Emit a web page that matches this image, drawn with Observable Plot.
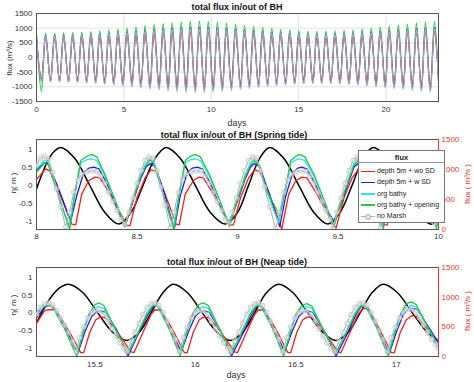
<!DOCTYPE html>
<html><head><meta charset="utf-8">
<script src="https://cdn.jsdelivr.net/npm/d3@7"></script>
<script src="https://cdn.jsdelivr.net/npm/@observablehq/plot@0.6"></script>
<style>
body{margin:0;background:#fff;font-family:"Liberation Sans",Arial,Helvetica,sans-serif;}
#root{position:relative;width:474px;height:382px;overflow:hidden;background:#fff;}
.lbl{position:absolute;white-space:nowrap;transform:translate(-50%,-50%);color:#333;font-size:8px;}
.ttl{position:absolute;white-space:nowrap;transform:translate(-50%,-50%);color:#111;font-size:9px;font-weight:bold;}
.rot{transform:translate(-50%,-50%) rotate(-90deg);}
.red{color:#f03030;}
#legend{position:absolute;left:358px;top:150px;width:85px;height:71px;background:#fff;border:1px solid #777;font-size:7px;color:#222;z-index:5;}
#legend .lt{position:absolute;left:0;top:2px;width:85px;text-align:center;font-weight:bold;font-size:7.5px;}
#legend .sep{position:absolute;left:0;top:11px;width:85px;height:0;border-top:1px solid #999;}
#legend .row{position:absolute;left:2px;height:10px;width:83px;}
#legend .sw{position:absolute;left:0;top:4.5px;width:14px;height:1.5px;}
#legend .dot{position:absolute;left:4px;top:2.5px;width:4px;height:4px;border:1px solid #aaa;border-radius:50%;background:#e8ece8;}
#legend .tx{position:absolute;left:16px;top:0;line-height:10px;white-space:nowrap;}
</style></head><body><div id="root"></div>
<script>
// ---------- Panel 1: whole record, signed flux (m3/s) ----------
const p1PeakDays = [0.00,0.52,1.04,1.55,2.07,2.59,3.11,3.62,4.14,4.66,5.18,5.69,6.21,6.73,7.25,7.76,8.28,8.80,9.32,9.83,10.35,10.87,11.39,11.90,12.42,12.94,13.46,13.97,14.49,15.01,15.53,16.04,16.56,17.08,17.60,18.11,18.63,19.15,19.67,20.18,20.70,21.22,21.74,22.25,22.77];
const p1TroughDays = [0.28,0.80,1.32,1.83,2.35,2.87,3.39,3.90,4.42,4.94,5.46,5.97,6.49,7.01,7.53,8.04,8.56,9.08,9.60,10.11,10.63,11.15,11.67,12.18,12.70,13.22,13.74,14.25,14.77,15.29,15.81,16.32,16.84,17.36,17.88,18.39,18.91,19.43,19.95,20.46,20.98,21.50,22.02,22.53];
const p1EndDay = 23.0;
const p1GreenPeaks = [790,830,830,835,845,860,880,905,930,965,1000,1040,1080,1115,1150,1185,1215,1235,1240,1225,1200,1170,1135,1095,1060,1025,990,960,935,915,900,895,895,905,920,940,965,995,1030,1065,1100,1135,1170,1200,1230];
const p1GreenTroughs = [-1150,-806,-808,-814,-824,-839,-858,-879,-904,-933,-965,-998,-1030,-1059,-1088,-1115,-1137,-1147,-1143,-1126,-1103,-1076,-1044,-1013,-984,-954,-927,-904,-885,-870,-862,-860,-864,-875,-889,-908,-931,-959,-988,-1017,-1046,-1076,-1103,-1128];
const p1RedPeaks = [647,667,667,670,675,682,692,705,717,735,752,772,792,810,827,845,860,870,872,865,852,837,820,800,782,765,747,732,720,710,702,700,700,705,712,722,735,750,767,785,802,820,837,852,867];
const p1RedTroughs = [-738,-749,-751,-755,-763,-773,-787,-801,-819,-840,-862,-886,-908,-929,-950,-969,-984,-992,-988,-977,-960,-941,-919,-896,-876,-855,-836,-819,-806,-795,-789,-788,-791,-798,-809,-822,-838,-858,-879,-899,-920,-941,-960,-978];
const p1BluePeaks = [726,754,754,758,765,775,790,807,825,849,874,901,930,954,978,1003,1024,1038,1041,1031,1013,993,968,940,915,891,866,845,828,814,803,800,800,807,817,831,849,870,894,919,943,968,993,1013,1034];
const p1BlueTroughs = [-801,-815,-816,-822,-830,-843,-858,-876,-897,-921,-947,-975,-1001,-1026,-1050,-1073,-1091,-1099,-1096,-1082,-1063,-1040,-1014,-987,-963,-939,-916,-897,-881,-869,-862,-860,-863,-872,-884,-900,-919,-942,-967,-991,-1015,-1040,-1063,-1084];
const p1GrayPeaks = [706,730,730,733,739,749,761,776,791,813,834,858,883,904,925,947,965,977,980,971,956,938,916,892,871,849,828,810,794,782,773,770,770,776,785,797,813,831,852,874,895,916,938,956,974];
const p1GrayTroughs = [-827,-845,-847,-854,-865,-881,-901,-923,-950,-981,-1014,-1050,-1083,-1114,-1146,-1174,-1197,-1208,-1203,-1185,-1161,-1132,-1099,-1065,-1034,-1003,-974,-950,-930,-914,-905,-903,-907,-919,-934,-954,-978,-1008,-1039,-1070,-1101,-1132,-1161,-1188];
const p1EndValues = {red:-700, blue:-780, green:-800, gray:-820};
const p1YTicks = [-1500,-1000,-500,0,500,1000,1500];
const p1XTicks = [0,5,10,15,20];

// ---------- Panel 2: spring tide ----------
const springEta = [[8.000,-0.10],[8.030,0.35],[8.060,0.72],[8.090,0.95],[8.120,1.05],[8.190,0.75],[8.265,0.00],[8.340,-0.75],[8.410,-1.07],[8.470,-0.75],[8.530,0.00],[8.590,0.75],[8.645,1.05],[8.715,0.75],[8.790,0.00],[8.865,-0.75],[8.940,-1.07],[9.000,-0.75],[9.055,0.00],[9.110,0.75],[9.160,1.05],[9.230,0.75],[9.305,0.00],[9.380,-0.75],[9.450,-1.07],[9.510,-0.75],[9.570,0.00],[9.625,0.75],[9.675,1.05],[9.745,0.75],[9.820,0.00],[9.895,-0.75],[9.960,-1.07],[10.000,-0.98]];
const springRed = [[8.000,830],[8.045,1011],[8.065,981],[8.120,559],[8.175,90],[8.195,78],[8.225,590],[8.260,812],[8.290,872],[8.315,860],[8.360,620],[8.410,319],[8.450,66],[8.465,66],[8.500,529],[8.540,860],[8.570,993],[8.595,969],[8.640,590],[8.695,90],[8.710,78],[8.740,590],[8.780,812],[8.805,872],[8.830,860],[8.875,620],[8.925,319],[8.965,78],[8.980,78],[9.015,529],[9.055,860],[9.085,993],[9.110,969],[9.160,590],[9.220,6],[9.255,590],[9.290,812],[9.320,872],[9.345,860],[9.390,620],[9.440,319],[9.490,18],[9.530,529],[9.570,860],[9.600,993],[9.625,969],[9.675,590],[9.730,78],[9.745,78],[9.775,590],[9.810,812],[9.840,872],[9.865,860],[9.910,620],[9.960,319],[10.000,78]];
const springBlue = [[8.000,993],[8.040,1113],[8.060,1089],[8.110,680],[8.170,138],[8.200,559],[8.235,951],[8.260,1023],[8.285,1041],[8.310,1011],[8.350,770],[8.395,409],[8.440,48],[8.480,469],[8.520,860],[8.545,1041],[8.565,1101],[8.590,1053],[8.635,620],[8.685,0],[8.715,559],[8.750,951],[8.775,1023],[8.800,1041],[8.825,1011],[8.865,770],[8.910,409],[8.960,108],[9.000,469],[9.040,860],[9.065,1041],[9.085,1101],[9.110,1053],[9.155,620],[9.210,48],[9.240,559],[9.275,951],[9.300,1023],[9.320,1041],[9.345,1011],[9.385,770],[9.430,409],[9.480,138],[9.520,469],[9.560,860],[9.580,1041],[9.600,1101],[9.625,1053],[9.670,620],[9.725,48],[9.755,559],[9.790,951],[9.815,1023],[9.840,1041],[9.865,1011],[9.905,770],[9.950,409],[9.990,78],[10.000,198]];
const springCyan = [[8.000,1011],[8.040,1161],[8.060,1113],[8.110,559],[8.160,66],[8.190,559],[8.220,1113],[8.250,1161],[8.275,1179],[8.300,1149],[8.340,891],[8.390,487],[8.440,66],[8.480,511],[8.520,921],[8.545,1113],[8.565,1185],[8.585,1113],[8.630,590],[8.680,30],[8.710,571],[8.740,1113],[8.765,1161],[8.790,1179],[8.815,1149],[8.860,891],[8.910,487],[8.960,66],[9.000,511],[9.040,921],[9.065,1113],[9.085,1185],[9.105,1101],[9.150,590],[9.205,108],[9.235,590],[9.265,1113],[9.290,1161],[9.310,1179],[9.335,1149],[9.380,891],[9.430,487],[9.480,66],[9.520,511],[9.560,921],[9.580,1113],[9.600,1185],[9.620,1101],[9.665,590],[9.720,48],[9.750,571],[9.780,1113],[9.805,1161],[9.830,1179],[9.855,1149],[9.900,891],[9.950,487],[9.990,66],[10.000,198]];
const springGreen = [[8.000,951],[8.040,1113],[8.060,1071],[8.110,559],[8.165,0],[8.190,590],[8.220,1149],[8.250,1222],[8.275,1252],[8.300,1210],[8.340,921],[8.390,499],[8.440,48],[8.480,499],[8.520,891],[8.545,1071],[8.565,1161],[8.585,1089],[8.630,590],[8.685,0],[8.710,590],[8.740,1149],[8.765,1222],[8.790,1252],[8.815,1210],[8.860,921],[8.910,499],[8.960,48],[9.000,499],[9.040,891],[9.065,1071],[9.085,1149],[9.105,1071],[9.150,620],[9.210,228],[9.235,620],[9.265,1149],[9.290,1222],[9.310,1252],[9.335,1210],[9.380,921],[9.430,499],[9.480,48],[9.520,499],[9.560,891],[9.580,1071],[9.600,1149],[9.620,1071],[9.665,590],[9.725,0],[9.750,590],[9.780,1149],[9.805,1222],[9.830,1252],[9.855,1210],[9.900,921],[9.950,499],[9.990,18],[10.000,168]];
const springGray = [[8.000,1071],[8.020,1192],[8.040,1222],[8.060,1173],[8.080,951],[8.100,680],[8.120,379],[8.145,48],[8.165,289],[8.185,620],[8.205,830],[8.225,921],[8.250,957],[8.275,981],[8.300,969],[8.320,891],[8.340,770],[8.360,620],[8.380,469],[8.400,319],[8.420,168],[8.440,78],[8.460,289],[8.480,529],[8.500,770],[8.520,981],[8.540,1149],[8.560,1210],[8.580,1192],[8.600,981],[8.620,710],[8.640,409],[8.665,30],[8.685,289],[8.705,620],[8.725,830],[8.745,921],[8.770,957],[8.795,981],[8.820,969],[8.840,891],[8.860,770],[8.880,620],[8.900,469],[8.920,319],[8.940,168],[8.955,108],[8.975,289],[8.995,529],[9.015,770],[9.035,981],[9.055,1149],[9.075,1210],[9.095,1192],[9.115,981],[9.135,710],[9.160,379],[9.190,18],[9.210,289],[9.230,620],[9.250,830],[9.270,921],[9.290,957],[9.315,981],[9.340,969],[9.360,891],[9.380,770],[9.400,620],[9.420,469],[9.440,319],[9.460,168],[9.475,18],[9.495,289],[9.515,529],[9.535,770],[9.555,981],[9.575,1149],[9.595,1210],[9.615,1192],[9.635,981],[9.655,710],[9.680,379],[9.710,30],[9.730,289],[9.750,620],[9.770,830],[9.790,921],[9.810,957],[9.835,981],[9.860,969],[9.880,891],[9.900,770],[9.920,620],[9.940,469],[9.960,319],[9.980,108],[10.000,258]];
const springXTicks = [8,8.5,9,9.5,10];

// ---------- Panel 3: neap tide ----------
const neapEta = [[15.210,-0.28],[15.250,0.15],[15.290,0.50],[15.330,0.72],[15.370,0.80],[15.440,0.57],[15.515,0.00],[15.590,-0.55],[15.660,-0.77],[15.720,-0.55],[15.780,0.00],[15.840,0.57],[15.890,0.80],[15.960,0.57],[16.035,0.00],[16.110,-0.55],[16.175,-0.77],[16.235,-0.55],[16.295,0.00],[16.355,0.57],[16.415,0.80],[16.485,0.57],[16.560,0.00],[16.635,-0.55],[16.700,-0.77],[16.760,-0.55],[16.820,0.00],[16.880,0.57],[16.935,0.80],[17.005,0.57],[17.080,0.00],[17.155,-0.55],[17.210,-0.77]];
const neapRed = [[15.210,559],[15.250,770],[15.265,788],[15.295,788],[15.315,740],[15.375,409],[15.430,66],[15.445,66],[15.475,409],[15.505,620],[15.530,668],[15.555,650],[15.620,379],[15.680,78],[15.695,66],[15.740,409],[15.780,710],[15.800,788],[15.830,776],[15.890,439],[15.945,66],[15.960,66],[15.990,409],[16.020,620],[16.045,668],[16.070,650],[16.135,379],[16.195,78],[16.210,66],[16.255,409],[16.295,710],[16.315,788],[16.345,776],[16.405,439],[16.460,66],[16.475,66],[16.505,409],[16.535,620],[16.560,668],[16.585,650],[16.650,379],[16.710,78],[16.725,66],[16.770,409],[16.810,710],[16.835,812],[16.865,800],[16.920,439],[16.975,66],[16.990,66],[17.020,409],[17.050,620],[17.080,690],[17.105,670],[17.160,439],[17.210,258]];
const neapBlue = [[15.210,650],[15.250,830],[15.270,860],[15.295,830],[15.355,469],[15.415,48],[15.450,409],[15.485,680],[15.510,755],[15.530,770],[15.555,740],[15.610,439],[15.665,6],[15.720,409],[15.765,710],[15.795,860],[15.820,830],[15.875,469],[15.930,78],[15.965,409],[16.000,680],[16.025,755],[16.045,770],[16.070,740],[16.125,439],[16.180,6],[16.240,409],[16.280,710],[16.310,860],[16.335,830],[16.390,469],[16.445,78],[16.480,409],[16.515,680],[16.540,755],[16.560,770],[16.585,740],[16.640,439],[16.700,6],[16.760,409],[16.800,710],[16.830,872],[16.855,830],[16.910,469],[16.965,48],[17.000,409],[17.035,710],[17.060,800],[17.080,812],[17.105,788],[17.160,499],[17.210,228]];
const neapCyan = [[15.210,740],[15.240,860],[15.265,884],[15.290,848],[15.350,469],[15.410,48],[15.440,379],[15.470,680],[15.500,812],[15.520,842],[15.545,812],[15.600,469],[15.665,48],[15.720,439],[15.760,740],[15.790,884],[15.815,848],[15.870,469],[15.925,48],[15.955,379],[15.985,680],[16.015,812],[16.040,842],[16.065,812],[16.120,469],[16.180,48],[16.235,439],[16.275,740],[16.305,884],[16.330,848],[16.385,469],[16.440,48],[16.470,379],[16.500,680],[16.530,812],[16.555,842],[16.580,812],[16.635,469],[16.700,48],[16.755,439],[16.795,740],[16.825,884],[16.850,848],[16.905,469],[16.960,48],[16.990,379],[17.020,680],[17.050,830],[17.075,860],[17.100,830],[17.155,499],[17.210,168]];
const neapGreen = [[15.210,710],[15.240,830],[15.265,860],[15.290,830],[15.350,469],[15.410,6],[15.440,379],[15.470,710],[15.500,872],[15.520,903],[15.545,860],[15.600,469],[15.665,66],[15.720,439],[15.760,710],[15.790,860],[15.815,830],[15.870,469],[15.925,6],[15.955,379],[15.985,710],[16.015,872],[16.040,903],[16.065,860],[16.120,469],[16.180,66],[16.235,439],[16.275,710],[16.305,860],[16.330,830],[16.385,469],[16.440,6],[16.470,379],[16.500,710],[16.530,860],[16.555,891],[16.580,848],[16.635,469],[16.700,66],[16.755,439],[16.795,710],[16.825,860],[16.850,830],[16.905,469],[16.960,6],[16.990,379],[17.020,710],[17.050,891],[17.075,921],[17.100,872],[17.155,499],[17.210,138]];
const neapGray = [[15.210,710],[15.230,830],[15.250,891],[15.270,903],[15.290,872],[15.310,770],[15.330,650],[15.350,529],[15.370,409],[15.390,258],[15.405,78],[15.425,319],[15.445,499],[15.465,650],[15.485,740],[15.505,770],[15.525,770],[15.545,710],[15.565,590],[15.585,469],[15.605,349],[15.625,228],[15.645,138],[15.660,78],[15.680,258],[15.700,409],[15.720,559],[15.740,710],[15.760,830],[15.780,891],[15.800,903],[15.820,860],[15.840,740],[15.860,590],[15.880,439],[15.900,289],[15.920,78],[15.940,319],[15.960,499],[15.980,650],[16.000,740],[16.020,770],[16.040,770],[16.060,710],[16.080,590],[16.100,469],[16.120,349],[16.140,228],[16.160,138],[16.175,78],[16.195,258],[16.215,409],[16.235,559],[16.255,710],[16.275,830],[16.295,891],[16.315,903],[16.335,860],[16.355,740],[16.375,590],[16.395,439],[16.415,289],[16.435,78],[16.455,319],[16.475,499],[16.495,650],[16.515,740],[16.535,770],[16.555,770],[16.575,710],[16.595,590],[16.615,469],[16.635,349],[16.655,228],[16.675,138],[16.695,78],[16.715,258],[16.735,409],[16.755,559],[16.775,710],[16.795,830],[16.815,891],[16.835,903],[16.855,860],[16.875,740],[16.895,590],[16.915,439],[16.935,289],[16.955,78],[16.975,319],[16.995,499],[17.015,650],[17.035,740],[17.055,788],[17.075,800],[17.095,752],[17.115,650],[17.135,529],[17.155,409],[17.175,289],[17.195,198],[17.210,138]];
const neapXTicks = [15.5,16,16.5,17];

const etaTicks = [-1,-0.5,0,0.5,1];
const fluxRightTicks = [0,500,1000,1500];
const seriesNames = ["depth 5m + wo SD","depth 5m + w SD","org bathy","org bathy + opening","no Marsh"];
const seriesColors = ["#ff1a1a","#1a1aee","#22e8e8","#22c845","#b4b4b4"];

// ---------- build ----------
const root = document.getElementById("root");
const FONT = "Liberation Sans, Arial, Helvetica, sans-serif";
const AX = "#555";
const TXT = "#333";
const RED = "#f03030";

function place(el, top){ el.style.position="absolute"; el.style.left="0px"; el.style.top=top+"px"; root.appendChild(el); return el; }
function label(text, x, y, cls){ const d=document.createElement("div"); d.className=cls; d.textContent=text; d.style.left=x+"px"; d.style.top=y+"px"; root.appendChild(d); return d; }

function interleave(peaks, troughs, endVal){
  const out=[];
  for(let i=0;i<p1PeakDays.length;i++){
    out.push({day:p1PeakDays[i], flux:peaks[i]});
    if(i<p1TroughDays.length) out.push({day:p1TroughDays[i], flux:troughs[i]});
  }
  out.push({day:p1EndDay, flux:endVal});
  return out;
}
const p1Red = interleave(p1RedPeaks,p1RedTroughs,p1EndValues.red);
const p1Blue = interleave(p1BluePeaks,p1BlueTroughs,p1EndValues.blue);
const p1Green = interleave(p1GreenPeaks,p1GreenTroughs,p1EndValues.green);
const p1Gray = interleave(p1GrayPeaks,p1GrayTroughs,p1EndValues.gray);

const fmt = d => String(d);

// Panel 1
place(Plot.plot({
  width:474, height:130, marginTop:13, marginBottom:29, marginLeft:36, marginRight:36,
  style:{fontFamily:FONT, fontSize:"8px", color:TXT, background:"transparent"},
  x:{domain:[0,23], axis:null}, y:{domain:[-1500,1500], axis:null},
  marks:[
    Plot.gridY(p1YTicks,{stroke:"#e2e2e2", strokeOpacity:1}),
    Plot.gridX(p1XTicks,{stroke:"#e2e2e2", strokeOpacity:1}),
    Plot.line(p1Green,{x:"day", y:"flux", stroke:seriesColors[3], strokeWidth:1.4, curve:"catmull-rom", clip:true}),
    Plot.line(p1Red,{x:"day", y:"flux", stroke:seriesColors[0], strokeWidth:1, curve:"catmull-rom", clip:true}),
    Plot.line(p1Blue,{x:"day", y:"flux", stroke:"#6060c8", strokeWidth:0.9, curve:"catmull-rom", clip:true}),
    Plot.line(p1Gray,{x:"day", y:"flux", stroke:"#b8b4c8", strokeWidth:1, strokeOpacity:0.85, curve:"catmull-rom", clip:true}),
    Plot.frame({stroke:AX}),
    Plot.axisY(p1YTicks,{anchor:"left", tickSize:0, tickPadding:4, tickFormat:fmt, label:null, fill:TXT}),
    Plot.axisX(p1XTicks,{anchor:"bottom", tickSize:0, tickPadding:5, tickFormat:fmt, label:null, fill:TXT})
  ]
}), 0);
label("total flux in/out of BH", 237, 6.5, "ttl");
label("days", 237, 122.5, "lbl").style.fontSize="9px";
label("flux (m³/s)", 9, 58, "lbl rot");

function tidePanel(top, height, mTop, mBottom, xDomain, xTicks, eta, red, blue, cyan, green, gray){
  const common = {width:474, height, marginTop:mTop, marginBottom:mBottom, marginLeft:36, marginRight:36,
    style:{fontFamily:FONT, fontSize:"8px", color:TXT, background:"transparent", overflow:"visible"}};
  place(Plot.plot({...common,
    x:{domain:xDomain, axis:null}, y:{domain:[-1.22,1.27], axis:null},
    marks:[
      Plot.line(eta,{x:d=>d[0], y:d=>d[1], stroke:"#000", strokeWidth:1.5, curve:"catmull-rom", clip:true}),
      Plot.frame({stroke:AX}),
      Plot.axisY(etaTicks,{anchor:"left", tickSize:0, tickPadding:4, tickFormat:fmt, label:null, fill:TXT}),
      Plot.axisX(xTicks,{anchor:"bottom", tickSize:0, tickPadding:(mBottom>=24?5:4), tickFormat:fmt, label:null, fill:TXT})
    ]}), top);
  const ln = (data, i, w) => Plot.line(data,{x:d=>d[0], y:d=>d[1], stroke:seriesColors[i], strokeWidth:w, clip:true});
  place(Plot.plot({...common,
    x:{domain:xDomain, axis:null}, y:{domain:[0,1500], axis:null},
    marks:[
      ln(red,0,1.3), ln(blue,1,1.3), ln(cyan,2,1.3), ln(green,3,1.3),
      ln(gray,4,1.1),
      Plot.dot(gray,{x:d=>d[0], y:d=>d[1], r:2.3, stroke:"#c0c0c0", strokeWidth:0.8, fill:"#e6eae6", fillOpacity:0.5, clip:true}),
      Plot.ruleX([xDomain[1]],{stroke:RED}),
      Plot.axisY(fluxRightTicks,{anchor:"right", tickSize:0, tickPadding:3, tickFormat:fmt, label:null, fill:RED})
    ]}), top);
}

tidePanel(130, 120, 9, 21, [8,10], springXTicks, springEta, springRed, springBlue, springCyan, springGreen, springGray);
label("total flux in/out of BH (Spring tide)", 234, 134.5, "ttl");
label("η( m )", 13, 183, "lbl rot");
label("flux ( m³/s )", 467, 184, "lbl rot red");

tidePanel(255, 127, 12, 26, [15.21,17.21], neapXTicks, neapEta, neapRed, neapBlue, neapCyan, neapGreen, neapGray);
label("total flux in/out of BH (Neap tide)", 237, 261.5, "ttl");
label("η( m )", 13, 305, "lbl rot");
label("flux ( m³/s )", 467, 311, "lbl rot red");
label("days", 236, 375, "lbl").style.fontSize="9px";

// Legend
const lg = document.createElement("div"); lg.id="legend";
lg.innerHTML = '<div class="lt">flux</div><div class="sep"></div>';
seriesNames.forEach((name,i)=>{
  const r=document.createElement("div"); r.className="row"; r.style.top=(15+i*11.3)+"px";
  const sw=document.createElement("div"); sw.className="sw"; sw.style.background=seriesColors[i]; r.appendChild(sw);
  if(i===4){ const dt=document.createElement("div"); dt.className="dot"; r.appendChild(dt); }
  const tx=document.createElement("div"); tx.className="tx"; tx.textContent=name; r.appendChild(tx);
  lg.appendChild(r);
});
root.appendChild(lg);
</script></body></html>
